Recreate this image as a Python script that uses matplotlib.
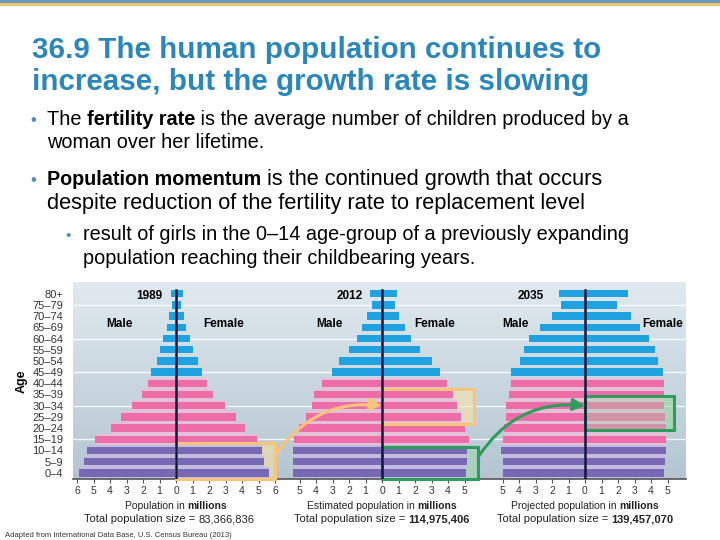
import numpy as np
import matplotlib.pyplot as plt
from matplotlib.patches import Rectangle, ConnectionPatch

plt.rcParams['font.family'] = ['Liberation Sans', 'DejaVu Sans']

# ---- data (millions) ----
ages = ['0–4', '5–9', '10–14', '15–19', '20–24', '25–29', '30–34', '35–39', '40–44',
        '45–49', '50–54', '55–59', '60–64', '65–69', '70–74', '75–79', '80+']

male_1989 = [5.9, 5.57, 5.41, 4.9, 3.96, 3.33, 2.69, 2.06, 1.71, 1.49, 1.18, 0.98, 0.78, 0.55, 0.4, 0.22, 0.3]
female_1989 = [5.63, 5.35, 5.24, 4.88, 4.18, 3.61, 2.98, 2.27, 1.9, 1.59, 1.33, 1.06, 0.86, 0.61, 0.47, 0.31, 0.41]

male_2012 = [5.42, 5.42, 5.42, 5.36, 5.06, 4.62, 4.22, 4.14, 3.64, 3.06, 2.6, 2.02, 1.54, 1.2, 0.92, 0.62, 0.7]
female_2012 = [5.12, 5.18, 5.18, 5.26, 5.04, 4.76, 4.52, 4.32, 3.94, 3.5, 3.0, 2.3, 1.78, 1.38, 1.06, 0.76, 0.88]

male_2035 = [4.98, 5.0, 5.12, 4.96, 4.92, 4.8, 4.76, 4.62, 4.48, 4.46, 3.91, 3.69, 3.39, 2.7, 2.0, 1.45, 1.55]
female_2035 = [4.78, 4.82, 4.88, 4.9, 4.88, 4.84, 4.8, 4.8, 4.78, 4.7, 4.44, 4.23, 3.89, 3.35, 2.8, 1.96, 2.6]

years = ['1989', '2012', '2035']
xlabels = [('Population in ', 'millions'), ('Estimated population in ', 'millions'),
           ('Projected population in ', 'millions')]
totals = ['83,366,836', '114,975,406', '139,457,070']

W, H = 720, 540
fig = plt.figure(figsize=(7.2, 5.4), dpi=100)


def fx(px):
    return px / W


def fy(py):
    return 1 - py / H


# top border
fig.add_artist(Rectangle((0, fy(3.3)), 1, 3.3 / H, transform=fig.transFigure, color='#6b99c4', lw=0))
fig.add_artist(Rectangle((0, fy(6)), 1, 2.7 / H, transform=fig.transFigure, color='#e9c56c', lw=0))

renderer = fig.canvas.get_renderer()


def rich(x, y, parts, size, color='black', ha='left'):
    arts = []
    for s, w in parts:
        arts.append(fig.text(0, fy(y), s, fontsize=size, fontweight=w, color=color, va='baseline'))
    widths = [a.get_window_extent(renderer).width for a in arts]
    start = x - sum(widths) / 2 if ha == 'center' else x
    for a, wd in zip(arts, widths):
        a.set_x(fx(start))
        start += wd
    return start


# title
title_col = '#2b87b9'
fig.text(fx(32), fy(58), '36.9 The human population continues to', fontsize=21.3,
         fontweight='bold', color=title_col, va='baseline')
fig.text(fx(32), fy(90.5), 'increase, but the growth rate is slowing', fontsize=21.3,
         fontweight='bold', color=title_col, va='baseline')

bul_col = '#4f8fc0'
fig.text(fx(30), fy(125), '•', fontsize=12, color=bul_col, va='baseline')
rich(47, 125, [('The ', 'normal'), ('fertility rate', 'bold'),
               (' is the average number of children produced by a', 'normal')], 14.3)
rich(47, 148, [('woman over her lifetime.', 'normal')], 14.3)

fig.text(fx(30), fy(185), '•', fontsize=12, color=bul_col, va='baseline')
end = rich(47, 185, [('Population momentum', 'bold'), (' ', 'normal')], 14.2)
rich(end, 185, [('is the continued growth that occurs', 'normal')], 15.7)
rich(47, 209.5, [('despite reduction of the fertility rate to replacement level', 'normal')], 15.7)

fig.text(fx(65), fy(240), '•', fontsize=11, color=bul_col, va='baseline')
rich(83, 240, [('result of girls in the 0–14 age-group of a previously expanding', 'normal')], 14.3)
rich(83, 263.5, [('population reaching their childbearing years.', 'normal')], 14.3)

# ---- chart area ----
bg_l, bg_r, bg_t, bg_b = 73, 686, 282, 479
ylim = (-0.55, 17.05)
bg = fig.add_axes([fx(bg_l), fy(bg_b), fx(bg_r - bg_l), (bg_b - bg_t) / H])
grad = np.linspace(0, 1, 256).reshape(-1, 1)
top = np.array([0.878, 0.914, 0.937])
bot = np.array([0.706, 0.773, 0.820])
img = top[None, None, :] * (1 - grad[:, :, None]) + bot[None, None, :] * grad[:, :, None]
bg.imshow(img, extent=[0, 1, ylim[0], ylim[1]], aspect='auto', origin='upper', zorder=0)
bg.set_xlim(0, 1)
bg.set_ylim(*ylim)
rows = np.arange(len(ages))
bg.set_yticks(rows)
bg.set_yticklabels(ages, fontsize=8, color='#333333')
bg.tick_params(axis='y', length=0, pad=7)
bg.set_yticks([3, 6, 9, 12, 15], minor=True)
bg.tick_params(axis='y', which='minor', length=7, color='#9aa8b2', width=1)
for r in [3, 6, 9, 12, 15]:
    bg.axhline(r, color='white', lw=1, alpha=0.8, zorder=1)
bg.set_xticks([])
for s in ['top', 'right', 'left']:
    bg.spines[s].set_visible(False)
bg.spines['bottom'].set_color('#555555')
bg.spines['bottom'].set_linewidth(1.2)
fig.text(fx(22), fy(381), 'Age', rotation=90, fontsize=9, fontweight='bold', ha='center', va='center')

blue = '#1ea3e0'
pink = '#ee6da8'
purple = '#7769b3'
light = {'pink': '#e2c1d6', 'purple': '#c2bde0'}

panels = [
    (male_1989, female_1989, 176, 73, 280, 6),
    (male_2012, female_2012, 382, 280, 484, 5),
    (male_2035, female_2035, 585, 484, 686, 5),
]
year_off = [-27, -32, -54]
male_off = [-57, -53, -70]
female_off = [48, 53, 78]
px_per = 16.5
axes = []
for i, (m, f, zero, left, right, tmax) in enumerate(panels):
    ax = fig.add_axes([fx(left), fy(bg_b), fx(right - left), (bg_b - bg_t) / H], zorder=2)
    ax.set_facecolor('none')
    ax.set_xlim(-(zero - left) / px_per, (right - zero) / px_per)
    ax.set_ylim(*ylim)
    cols = [purple] * 3 + [pink] * 6 + [blue] * 8
    m = np.array(m)
    f = np.array(f)
    for r in rows:
        if cols[r] != blue:
            lc = light['purple'] if cols[r] == purple else light['pink']
            ax.barh(r, -m[r], height=1.0, color=lc, lw=0, zorder=1)
            ax.barh(r, f[r], height=1.0, color=lc, lw=0, zorder=1)
    ax.barh(rows, -m, height=0.66, color=cols, lw=0, zorder=2)
    ax.barh(rows, f, height=0.66, color=cols, lw=0, zorder=2)
    ax.axvline(0, ymin=0, ymax=0.96, color='#15163a', lw=1.8, zorder=4)
    ticks = np.arange(-tmax, tmax + 1)
    ax.set_xticks(ticks)
    ax.set_xticklabels([str(abs(t)) for t in ticks], fontsize=7.5, color='#333333')
    ax.tick_params(axis='x', length=3, color='#555555', pad=2)
    ax.set_yticks([])
    for s in ax.spines.values():
        s.set_visible(False)
    axes.append(ax)

    fig.text(fx(zero + year_off[i]), fy(299), years[i], fontsize=8.5, fontweight='bold', ha='center', va='baseline')
    rich(zero + male_off[i], 327, [('Male', 'bold')], 8.5, ha='center')
    rich(zero + female_off[i], 327, [('Female', 'bold')], 8.5, ha='center')
    rich(zero, 509, [(xlabels[i][0], 'normal'), (xlabels[i][1], 'bold')], 7.5, color='#222222', ha='center')
    rich(zero - (7 if i == 0 else 0), 522, [('Total population size = ', 'normal'), (totals[i], 'bold' if i else 'normal')],
         8, color='#222222', ha='center')

ax1, ax2, ax3 = axes
orange = '#f6c57a'
green = '#2e9d5b'


def box(ax, x1, y0, y1, ec, fc):
    ax.add_patch(Rectangle((0, y0), x1, y1 - y0, facecolor=fc, edgecolor='none', alpha=0.55, zorder=0.5))
    ax.add_patch(Rectangle((0, y0), x1, y1 - y0, facecolor='none', edgecolor=ec, lw=2.2, zorder=3,
                           clip_on=False))


box(ax1, 6.0, -0.55, 2.65, orange, '#fbe0a0')
box(ax2, 5.56, 4.4, 7.5, orange, '#fde7a6')
box(ax2, 5.82, -0.55, 2.35, green, '#9fd8a8')
box(ax3, 5.42, 3.85, 6.9, green, '#9fd8a8')
ax3.add_patch(Rectangle((0, 3.85), 5.42, 3.05, facecolor='#9fd8a8', alpha=0.35, lw=0, zorder=2.5))

arr1 = ConnectionPatch(xyA=(6.0, 1.5), coordsA=ax1.transData, xyB=(0, 6.0), coordsB=ax2.transData,
                       arrowstyle='-|>,head_length=0.7,head_width=0.35', connectionstyle='arc3,rad=-0.3',
                       color=orange, lw=2.2, mutation_scale=10, zorder=5)
fig.add_artist(arr1)
arr2 = ConnectionPatch(xyA=(5.82, 1.4), coordsA=ax2.transData, xyB=(0, 6.0), coordsB=ax3.transData,
                       arrowstyle='-|>,head_length=0.7,head_width=0.35', connectionstyle='arc3,rad=-0.3',
                       color=green, lw=2.2, mutation_scale=10, zorder=5)
fig.add_artist(arr2)

fig.text(fx(5), fy(537), 'Adapted from International Data Base, U.S. Census Bureau (2013)',
         fontsize=5.5, color='#333333', va='baseline')

fig.savefig('out.png', dpi=100)
